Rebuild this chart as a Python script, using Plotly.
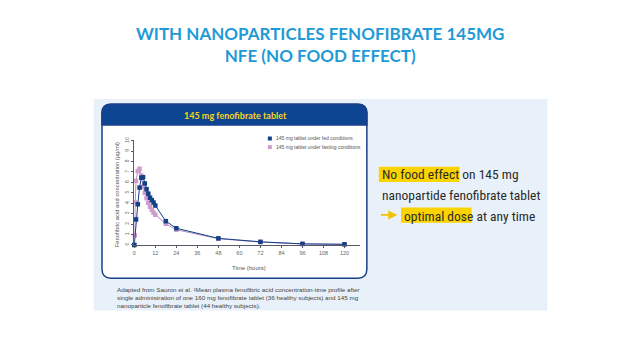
import plotly.graph_objects as go

# ---------------- data ----------------
fed_time = [0, 1, 2, 3, 4, 5, 6, 7, 8, 9, 10, 11, 12, 18, 24, 48, 72, 96, 120]
fed_conc = [0.0, 2.45, 3.9, 5.5, 6.45, 6.5, 5.9, 5.35, 4.92, 4.53, 4.3, 4.07, 3.78, 2.28, 1.6, 0.63, 0.3, 0.1, 0.06]

fast_time = [0, 0.25, 0.5, 1, 2, 3, 4, 5, 6, 7, 8, 9, 10, 11, 12, 18, 24, 48, 72, 96, 120]
fast_conc = [0.0, 0.92, 4.08, 6.14, 7.09, 7.31, 6.66, 5.58, 5.0, 4.49, 4.03, 3.67, 3.35, 3.1, 2.9, 2.03, 1.46, 0.6, 0.27, 0.1, 0.06]

x_ticks = [0, 12, 24, 36, 48, 60, 72, 84, 96, 108, 120]
y_ticks = [0, 1, 2, 3, 4, 5, 6, 7, 8, 9, 10]

fed_name = "145 mg tablet under fed conditions"
fast_name = "145 mg tablet under fasting conditions"

# page body has an 8px margin, so the figure is 16px smaller than the window
OFF = 8
W, H = 638 - 2 * OFF, 359 - 2 * OFF
FED_C = "#123f86"
FAST_C = "#cf9ccc"
FAST_LINE = "#b98cc0"
NAVY = "#1a3f8a"


def px(x):
    return (x - OFF) / W


def py(y):
    return 1 - (y - OFF) / H


def rpath(x0, y0, x1, y1, r, top_only=False):
    pts = []
    def P(cmd, *xy):
        s = cmd
        for i in range(0, len(xy), 2):
            s += " %.5f,%.5f" % (px(xy[i]), py(xy[i + 1]))
        pts.append(s)
    P("M", x0 + r, y0)
    P("L", x1 - r, y0)
    P("Q", x1, y0, x1, y0 + r)
    if top_only:
        P("L", x1, y1)
        P("L", x0, y1)
    else:
        P("L", x1, y1 - r)
        P("Q", x1, y1, x1 - r, y1)
        P("L", x0 + r, y1)
        P("Q", x0, y1, x0, y1 - r)
    P("L", x0, y0 + r)
    P("Q", x0, y0, x0 + r, y0)
    return " ".join(pts) + " Z"


fig = go.Figure()
fig.add_trace(go.Scatter(x=fast_time, y=fast_conc, mode="lines+markers", name=fast_name,
                         line=dict(color=FAST_LINE, width=1),
                         marker=dict(symbol="square", size=4.5, color=FAST_C),
                         cliponaxis=False, showlegend=False))
fig.add_trace(go.Scatter(x=fed_time, y=fed_conc, mode="lines+markers", name=fed_name,
                         line=dict(color=FED_C, width=1),
                         marker=dict(symbol="square", size=4.5, color=FED_C),
                         cliponaxis=False, showlegend=False))

shapes = []
# light blue slide-image background
shapes.append(dict(type="rect", xref="paper", yref="paper", x0=px(92), x1=px(547), y0=py(311), y1=py(97),
                   fillcolor="#e8f1f9", line=dict(width=0), layer="below"))
# white rounded box
shapes.append(dict(type="path", xref="paper", yref="paper", path=rpath(100.3, 102.3, 366, 278.3, 9),
                   fillcolor="white", line=dict(color=NAVY, width=1.5), layer="below"))
# header band
shapes.append(dict(type="path", xref="paper", yref="paper", path=rpath(100.3, 102.3, 366, 123.3, 9, top_only=True),
                   fillcolor="#0e4592", line=dict(color=NAVY, width=1.5), layer="below"))
# legend squares
for yy, c in [(137, FED_C), (145.7, FAST_C)]:
    shapes.append(dict(type="rect", xref="paper", yref="paper", x0=px(266.7), x1=px(270.7),
                       y0=py(yy + 2), y1=py(yy - 2), fillcolor=c, line=dict(width=0)))
# highlights
shapes.append(dict(type="rect", xref="paper", yref="paper", x0=px(378), x1=px(459), y0=py(181), y1=py(165.7),
                   fillcolor="#fbd400", line=dict(width=0), layer="below"))
shapes.append(dict(type="rect", xref="paper", yref="paper", x0=px(400.3), x1=px(471), y0=py(222.3), y1=py(206.7),
                   fillcolor="#fbd400", line=dict(width=0), layer="below"))

ann = []
ann.append(dict(x=px(319.5), y=py(41.5), xref="paper", yref="paper", xanchor="center", yanchor="middle",
                text="WITH NANOPARTICLES FENOFIBRATE 145MG<br>NFE (NO FOOD EFFECT)", showarrow=False,
                font=dict(family="Lato", size=17, color="#1e9ad6", weight=700)))
ann.append(dict(x=px(234.7), y=py(113.3), xref="paper", yref="paper", xanchor="center", yanchor="middle",
                text="145 mg fenofibrate tablet", showarrow=False,
                font=dict(family="Lato", size=9, color="#f7d51a", weight=700)))
ann.append(dict(x=px(114.7), y=py(194), xref="paper", yref="paper", xanchor="center", yanchor="middle",
                text="Fenofibric acid and concentration (µg/ml)", textangle=-90, showarrow=False,
                font=dict(family="Liberation Sans", size=5.8, color="#555")))
ann.append(dict(x=px(247.7), y=py(267.7), xref="paper", yref="paper", xanchor="center", yanchor="middle",
                text="Time (hours)", showarrow=False,
                font=dict(family="Liberation Sans", size=6, color="#555")))
for yy, t in [(137, fed_name), (145.7, fast_name)]:
    ann.append(dict(x=px(272.5), y=py(yy), xref="paper", yref="paper", xanchor="left", yanchor="middle",
                    text=t, showarrow=False, font=dict(family="Liberation Sans", size=5, color="#555")))
ann.append(dict(x=px(113.2), y=py(297.5), xref="paper", yref="paper", xanchor="left", yanchor="middle", align="left",
                text="Adapted from Sauron et al. ¹Mean plasma fenofibric acid concentration-time profile after<br>"
                     "single administration of one 160 mg fenofibrate tablet (36 healthy subjects) and 145 mg<br>"
                     "nanoparticle fenofibrate tablet (44 healthy subjects).",
                showarrow=False, font=dict(family="Liberation Sans", size=6.25, color="#444")))
RF = "Liberation Sans Narrow, Roboto Condensed, DejaVu Sans Condensed, sans-serif"
ann.append(dict(x=px(379.5), y=py(173), xref="paper", yref="paper", xanchor="left", yanchor="middle",
                text="No food effect on 145 mg", showarrow=False, font=dict(family=RF, size=13.5, color="#2a2a2a")))
ann.append(dict(x=px(379.5), y=py(194), xref="paper", yref="paper", xanchor="left", yanchor="middle",
                text="nanopartide fenofibrate tablet", showarrow=False, font=dict(family=RF, size=13.5, color="#2a2a2a")))
ann.append(dict(x=px(401), y=py(215), xref="paper", yref="paper", xanchor="left", yanchor="middle",
                text="optimal dose at any time", showarrow=False, font=dict(family=RF, size=13.5, color="#2a2a2a")))
ann.append(dict(x=px(396.5), y=py(214.3), ax=-17.8, ay=0, xref="paper", yref="paper",
                axref="pixel", ayref="pixel", text="", showarrow=True, arrowhead=2, arrowsize=1,
                arrowwidth=1.8, arrowcolor="#f2c200"))

fig.update_layout(
    width=W, height=H, autosize=False,
    margin=dict(l=0, r=0, t=0, b=0),
    paper_bgcolor="white", plot_bgcolor="rgba(0,0,0,0)",
    shapes=shapes, annotations=ann, showlegend=False,
    xaxis=dict(domain=[px(132.7), px(358.7)], range=[0, 128.6], tickvals=x_ticks,
               showgrid=False, zeroline=False, showline=True, linecolor="#555a66", linewidth=1,
               ticks="outside", ticklen=2, tickcolor="#555a66", tickwidth=0.8,
               tickfont=dict(family="Liberation Sans", size=5.5, color="#666")),
    yaxis=dict(domain=[py(244.7), py(138.2)], range=[0, 10.1], tickvals=y_ticks,
               showgrid=False, zeroline=False, showline=True, linecolor="#555a66", linewidth=1,
               ticks="outside", ticklen=2, tickcolor="#555a66", tickwidth=0.8, tickangle=-90,
               tickfont=dict(family="Liberation Sans", size=5, color="#666")),
)

fig.write_html("out.html")
